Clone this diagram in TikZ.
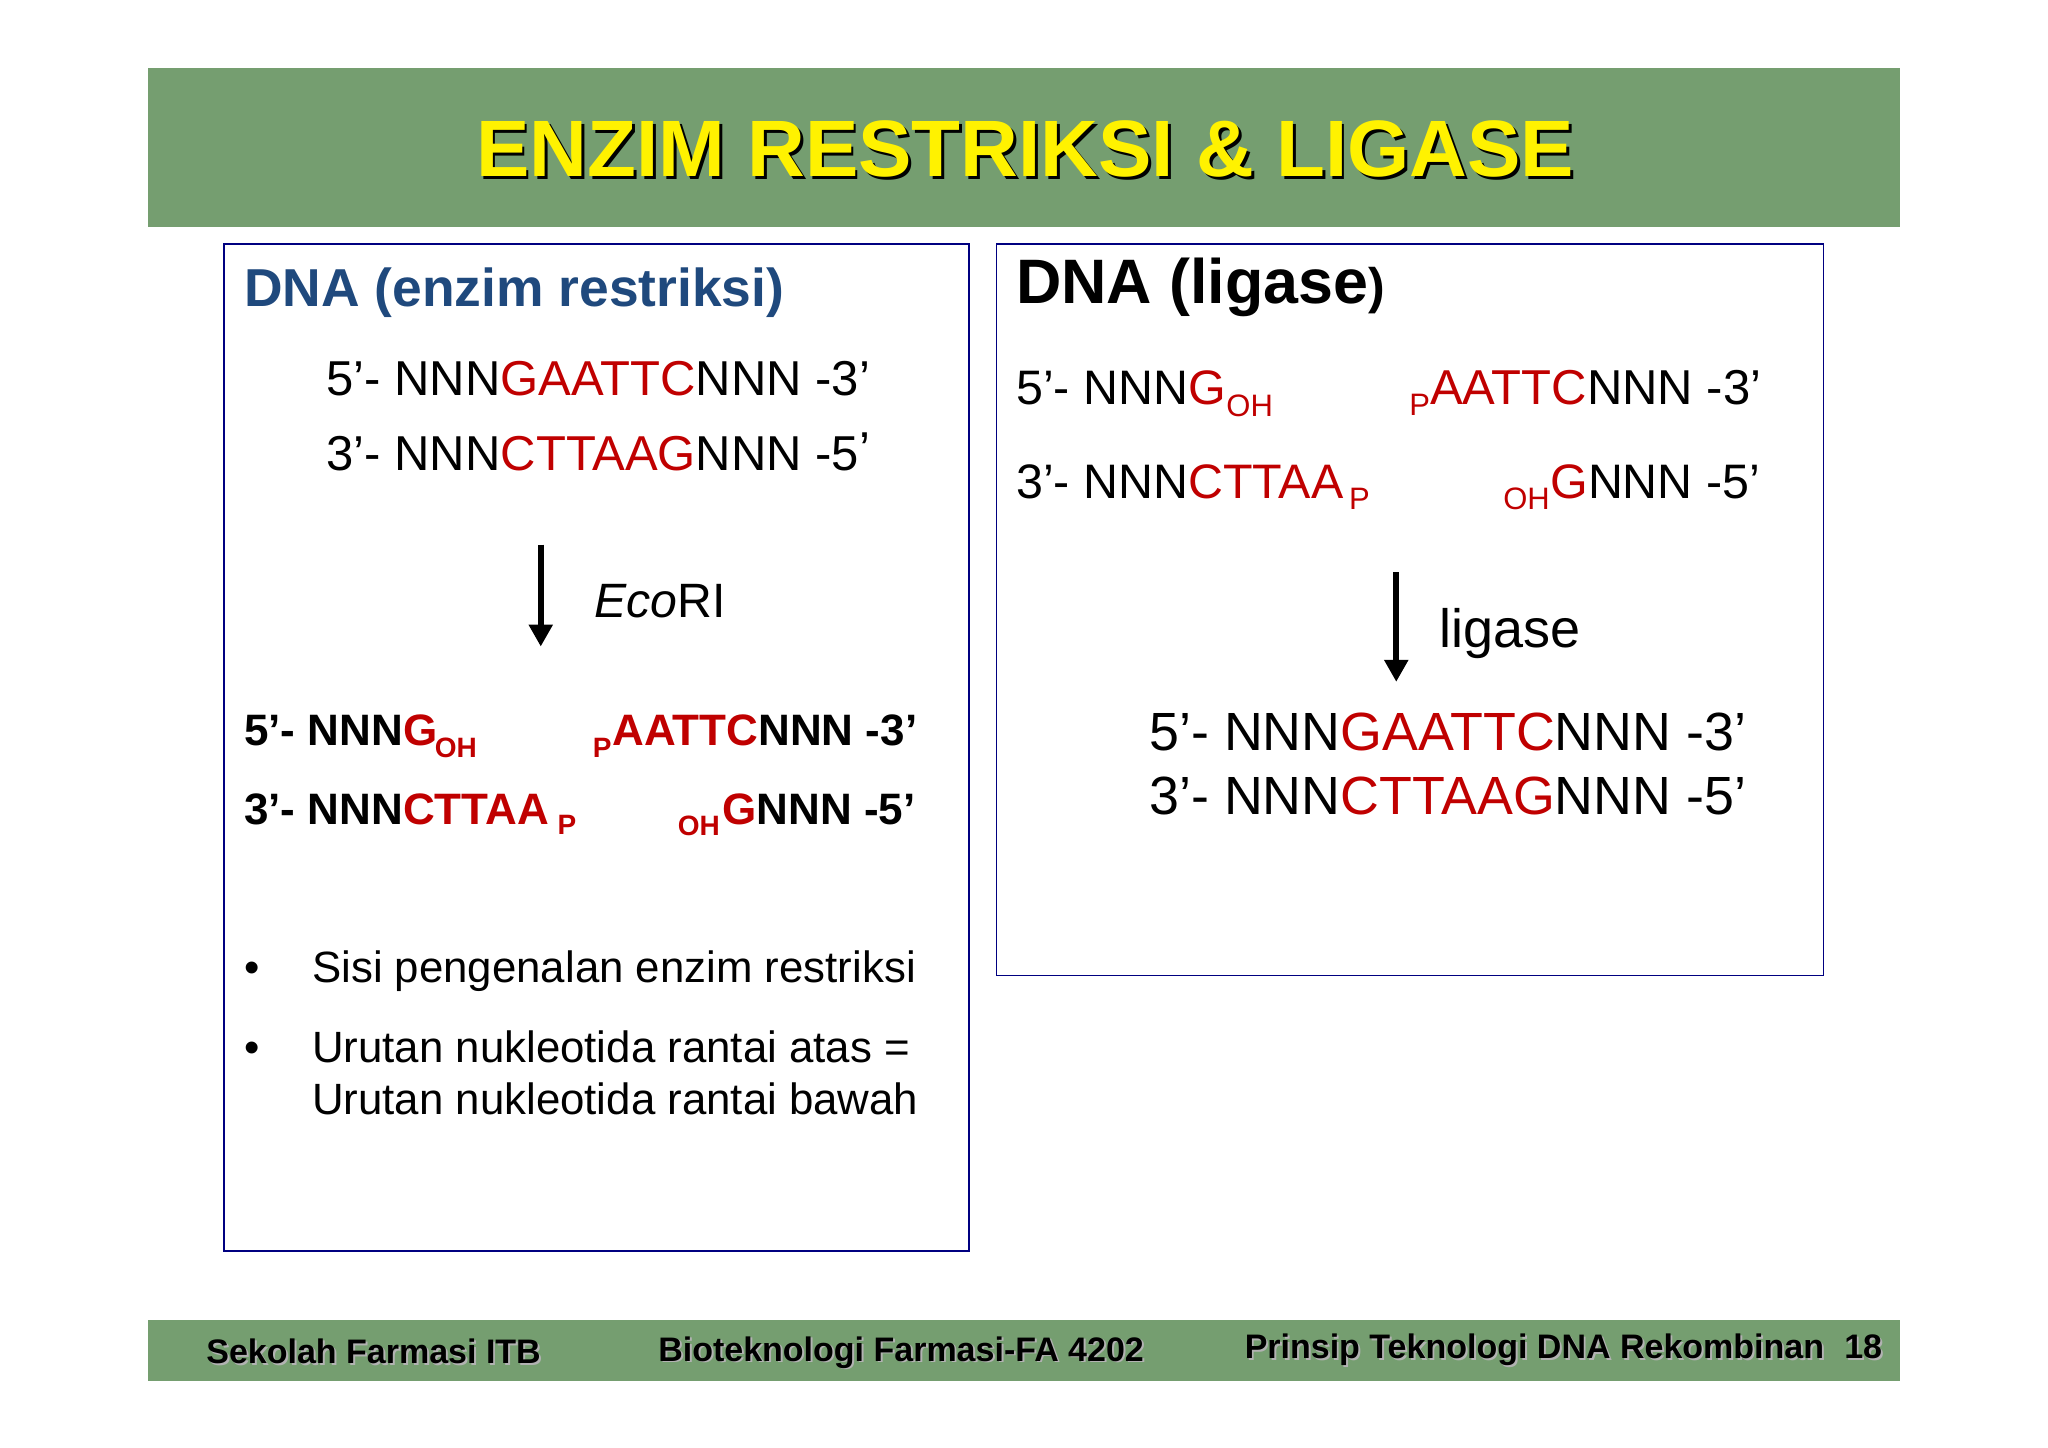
\documentclass[tikz,border=0pt]{standalone}
\usepackage{fontspec}
\setmainfont{Liberation Sans}
\usetikzlibrary{arrows.meta}
\definecolor{bandgreen}{HTML}{759E70}
\definecolor{dnared}{HTML}{C00000}
\definecolor{headblue}{HTML}{1F497D}
\definecolor{boxnavy}{HTML}{000080}
\newcommand{\fs}[1]{\fontsize{#1}{#1}\selectfont}
\newcommand{\rd}[1]{\textcolor{dnared}{#1}}
\tikzset{
 x=0.65306pt,y=-0.65306pt,
 lbl/.style={anchor=base west,inner sep=0pt,outer sep=0pt},
 band/.style={fill=bandgreen,draw=none},
 panel/.style={draw=boxnavy,line width=0.8pt,fill=white},
 seqa/.style={lbl,font=\fs{24.5}},
 seqc/.style={lbl,font=\fs{24.2}},
 seqb/.style={lbl,font=\fs{26.9}},
 seqbold/.style={lbl,font=\bfseries\fs{22}},
 subbold/.style={lbl,font=\bfseries\fs{14},text=dnared},
 subreg/.style={lbl,font=\fs{15.5},text=dnared},
 body/.style={lbl,font=\fs{21.9}},
 foot/.style={lbl,font=\bfseries\fs{17}},
 footsh/.style={foot,text=black!30},
 flow/.style={line width=3pt,-{Triangle[length=11pt,width=11.5pt]}},
}
\begin{document}
\begin{tikzpicture}
\useasboundingbox (0,0) rectangle (1568,1108.6);
\fill[white] (0,0) rectangle (1568,1108.6);
% bands
\path[band] (113,52) rectangle (1455,174);
\path[band] (113,1010.5) rectangle (1455,1057);
% panels
\draw[panel] (171.5,187) rectangle (742,958);
\draw[panel] (763,187) rectangle (1396,747);
% title
\node[lbl,anchor=base,font=\bfseries\fs{40},text=black] (titlesh) at (787,137.5) {ENZIM RESTRIKSI \& LIGASE};
\node[lbl,anchor=base,font=\bfseries\fs{40},text=yellow] (title) at (785,135.5) {ENZIM RESTRIKSI \& LIGASE};
% left panel
\node[lbl,font=\bfseries\fs{26.7},text=headblue] (lhead) at (187,235) {DNA (enzim restriksi)};
\node[seqa] (l1) at (250,302.5) {5’- NNN\rd{GAATTC}NNN -3’};
\node[seqa] (l2) at (250,360.5) {3’- NNN\rd{CTTAAG}NNN -5\raisebox{2pt}{’}};
\coordinate (la) at (414,417);
\coordinate (lb) at (414,495);
\draw[flow] (la) -- (lb);
\node[lbl,font=\fs{24.1}] (eco) at (455,472.5) {\textit{Eco}RI};
\node[seqbold] (b1a) at (187,571) {5’- NNN\rd{G}};
\node[subbold] (b1b) at (333,580) {OH};
\node[subbold] (b1c) at (454,580) {P};
\node[seqbold] (b1d) at (469,570.5) {\rd{AATTC}NNN -3’};
\node[seqbold] (b2a) at (187,631.5) {3’- NNN\rd{CTTAA}};
\node[subbold] (b2b) at (427,639) {P};
\node[subbold] (b2c) at (519,640) {OH};
\node[seqbold] (b2d) at (553,631.5) {\rd{G}NNN -5’};
\node[body] (bu1) at (187,752.5) {•};
\node[body] (t1) at (239,752.5) {Sisi pengenalan enzim restriksi};
\node[body] (bu2) at (187,813.5) {•};
\node[body] (t2) at (239,813.5) {Urutan nukleotida rantai atas =};
\node[body] (t3) at (239,853.5) {Urutan nukleotida rantai bawah};
% right panel
\node[lbl,font=\bfseries\fs{31.4}] (rhead) at (778,232) {DNA (ligase{\fs{25})}};
\node[seqc] (r1a) at (778,310) {5’- NNN\rd{G}};
\node[subreg] (r1b) at (939,319) {OH};
\node[subreg] (r1c) at (1079,318) {P};
\node[seqa] (r1d) at (1095,310) {\rd{AATTC}NNN -3’};
\node[seqc] (r2a) at (778,382) {3’- NNN\rd{CTTAA}};
\node[subreg] (r2b) at (1033,390) {P};
\node[subreg] (r2c) at (1151,390) {OH};
\node[seqc] (r2d) at (1187,382) {\rd{G}NNN -5’};
\coordinate (ra) at (1069,438);
\coordinate (rb) at (1069,522);
\draw[flow] (ra) -- (rb);
\node[lbl,font=\fs{27}] (lig) at (1102,495.5) {ligase};
\node[seqb] (r3) at (880,574.5) {5’- NNN\rd{GAATTC}NNN -3’};
\node[seqb] (r4) at (880,623.5) {3’- NNN\rd{CTTAAG}NNN -5’};
% footer
\node[footsh] (f1s) at (159.5,1045.5) {Sekolah Farmasi ITB};
\node[foot] (f1) at (158,1044) {Sekolah Farmasi ITB};
\node[footsh] (f2s) at (505.5,1043.5) {Bioteknologi Farmasi-FA 4202};
\node[foot] (f2) at (504,1042) {Bioteknologi Farmasi-FA 4202};
\node[footsh] (f3s) at (954.5,1041.5) {Prinsip Teknologi DNA Rekombinan};
\node[foot] (f3) at (953,1040) {Prinsip Teknologi DNA Rekombinan};
\node[footsh] (f4s) at (1413.5,1041.5) {18};
\node[foot] (f4) at (1412,1040) {18};
\end{tikzpicture}
\end{document}
